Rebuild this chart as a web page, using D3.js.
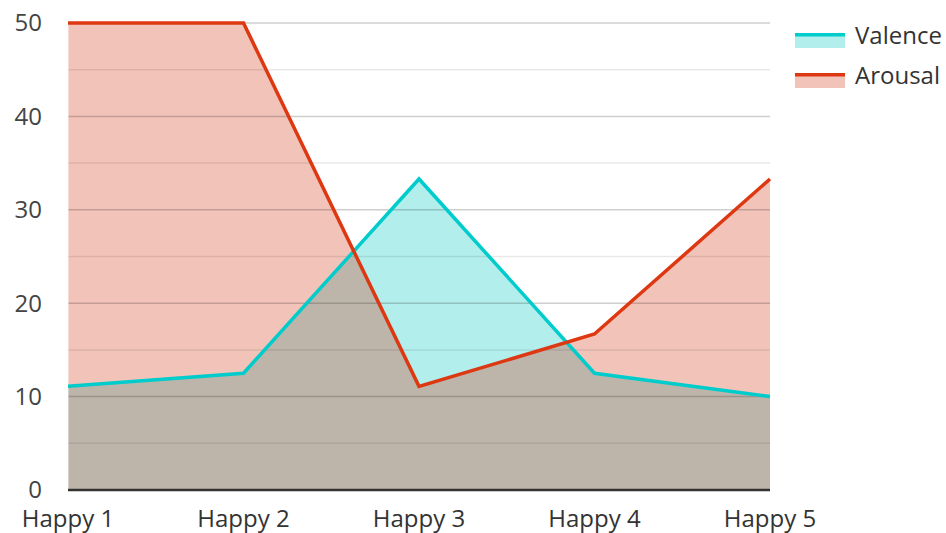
<!DOCTYPE html>
<meta charset="utf-8">
<body style="margin:0">
<script src="https://d3js.org/d3.v7.min.js"></script>
<script>
// data
var categories = ["Happy 1", "Happy 2", "Happy 3", "Happy 4", "Happy 5"];
var valence = [11.1, 12.5, 33.3, 12.5, 10];
var arousal = [50, 50, 11.1, 16.7, 33.3];
var yTicks = [0, 10, 20, 30, 40, 50];

var W = 946, H = 533;
var plotL = 68, plotR = 770, plotT = 23, plotB = 490;

var svg = d3.select("body").append("svg")
    .attr("width", W).attr("height", H)
    .style("font-family", "'Open Sans', sans-serif");

var x = d3.scalePoint().domain(categories).range([plotL, plotR]);
var y = d3.scaleLinear().domain([0, 50]).range([plotB, plotT]);

var rows = categories.map(function(c, i) { return {c: c, v: valence[i], a: arousal[i]}; });

var areaV = d3.area().x(function(d) { return x(d.c); }).y0(y(0)).y1(function(d) { return y(d.v); });
var areaA = d3.area().x(function(d) { return x(d.c); }).y0(y(0)).y1(function(d) { return y(d.a); });
var lineV = d3.line().x(function(d) { return x(d.c); }).y(function(d) { return y(d.v); });
var lineA = d3.line().x(function(d) { return x(d.c); }).y(function(d) { return y(d.a); });

// clip for overlap
svg.append("clipPath").attr("id", "clipA")
   .append("path").attr("d", areaA(rows));

// fills
svg.append("path").attr("d", areaA(rows)).attr("fill", "#f2c3b9");
svg.append("path").attr("d", areaV(rows)).attr("fill", "#b1eeec");
svg.append("path").attr("d", areaV(rows)).attr("fill", "#bdb5aa").attr("clip-path", "url(#clipA)");

// gridlines (major and minor)
d3.range(5, 50, 10).forEach(function(v) {
  svg.append("line").attr("x1", plotL).attr("x2", plotR)
     .attr("y1", y(v)).attr("y2", y(v))
     .attr("stroke", "rgba(0,0,0,0.09)").attr("stroke-width", 1.5);
});
yTicks.slice(1).forEach(function(v) {
  svg.append("line").attr("x1", plotL).attr("x2", plotR)
     .attr("y1", y(v)).attr("y2", y(v))
     .attr("stroke", "rgba(0,0,0,0.19)").attr("stroke-width", 1.5);
});

// light y axis line
svg.append("line").attr("x1", plotL).attr("x2", plotL)
   .attr("y1", plotT).attr("y2", plotB)
   .attr("stroke", "rgba(255,255,255,0.5)").attr("stroke-width", 1.5);

// lines
svg.append("path").attr("d", lineV(rows)).attr("fill", "none")
   .attr("stroke", "#00cccc").attr("stroke-width", 3.5);
svg.append("path").attr("d", lineA(rows)).attr("fill", "none")
   .attr("stroke", "#dd3811").attr("stroke-width", 3.5);

// x baseline
svg.append("line").attr("x1", plotL).attr("x2", plotR)
   .attr("y1", y(0)).attr("y2", y(0))
   .attr("stroke", "#333").attr("stroke-width", 2.5);

// y tick labels
svg.selectAll(".ylab").data(yTicks).enter().append("text")
   .attr("x", 42).attr("y", function(d) { return y(d); })
   .attr("dy", "0.35em").attr("text-anchor", "end")
   .attr("font-size", 24).attr("fill", "#444")
   .text(function(d) { return d; });

// x tick labels
svg.selectAll(".xlab").data(categories).enter().append("text")
   .attr("x", function(d) { return x(d); }).attr("y", 527)
   .attr("text-anchor", "middle")
   .attr("font-size", 24).attr("fill", "#333")
   .text(function(d) { return d; });

// legend
var legend = [
  {name: "Valence", line: "#00cccc", fill: "#b1eeec"},
  {name: "Arousal", line: "#dd3811", fill: "#f2c3b9"}
];
legend.forEach(function(l, i) {
  var ly = 33 + i * 40;
  svg.append("rect").attr("x", 795).attr("y", ly).attr("width", 50).attr("height", 15).attr("fill", l.fill);
  svg.append("rect").attr("x", 795).attr("y", ly).attr("width", 50).attr("height", 3.5).attr("fill", l.line);
  svg.append("text").attr("x", 855).attr("y", ly + 11).attr("font-size", 24).attr("fill", "#333").text(l.name);
});
</script>
</body>
